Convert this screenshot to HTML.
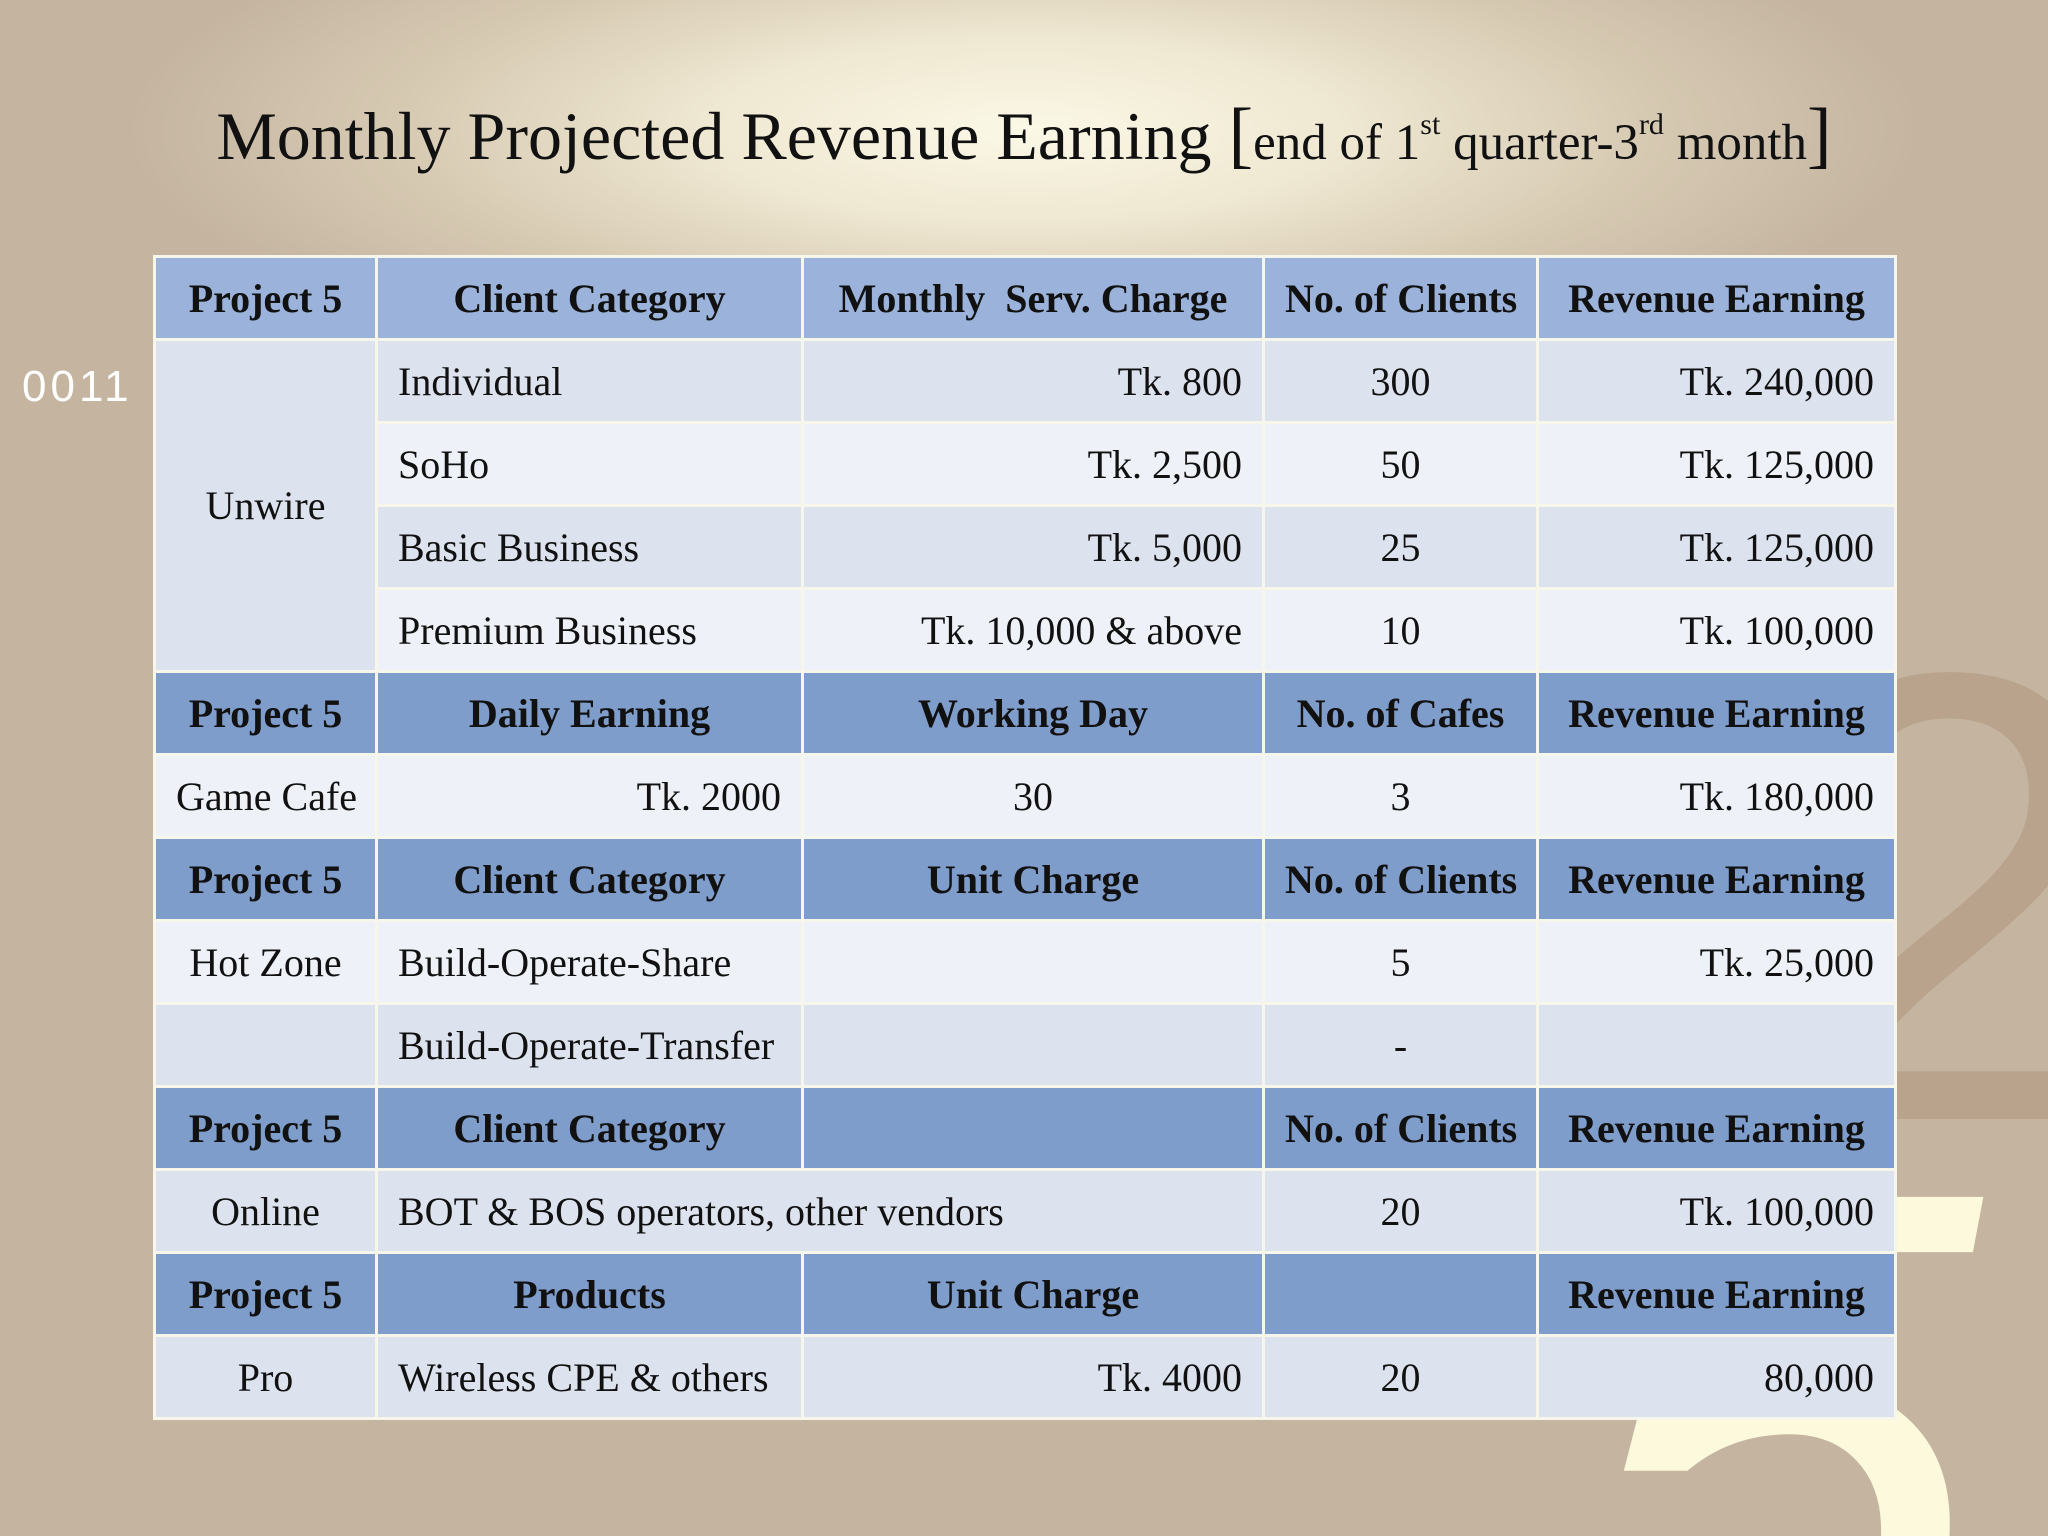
<!DOCTYPE html>
<html><head><meta charset="utf-8">
<style>
html,body{margin:0;padding:0;width:2048px;height:1536px;overflow:hidden}
#slide{width:2048px;height:1536px;position:relative;overflow:hidden;
background:radial-gradient(ellipse 900px 260px at 1024px 130px,#fbf8e6 0%,#efe8d2 35%,#d6c9b2 70%,rgba(197,181,160,0) 100%),#c4b4a0;
font-family:"Liberation Serif",serif;}
#decor{position:absolute;left:0;top:0;width:2048px;height:1536px;overflow:hidden}
.deco{position:absolute;font-family:"Liberation Sans",sans-serif;line-height:1}
#title{position:absolute;left:0;width:2048px;top:93px;text-align:center;font-size:68px;color:#111;white-space:nowrap}
#title .sm{font-size:51px}
#title sup{font-size:30px;vertical-align:25px}
#title .br{font-size:74px}
#code{position:absolute;left:22px;top:362px;font-family:"Liberation Sans",sans-serif;font-size:44px;color:#fff;letter-spacing:4px}
table{position:absolute;left:153px;top:255px;width:1741px;border-collapse:collapse;table-layout:fixed}
td{height:80px;border:3px solid #f7f6ea;font-size:40px;color:#111;padding:0 20px;white-space:nowrap}
tr.h td{background:#7f9dcb;font-weight:bold;text-align:center}
tr.h1 td{background:#9bb3da}
.d{background:#dde3ee}.l{background:#eef2f8}
.c{text-align:center}.r{text-align:right}
</style></head><body>
<div id="slide">
<div id="decor">
<div class="deco" style="left:1770px;top:578px;font-size:640px;color:#b9a38c">2</div>
<div class="deco" style="left:1570px;top:1080px;font-size:740px;color:#fdf9dc;font-style:italic">5</div>
</div>
<div id="title">Monthly Projected Revenue Earning <span class="br">[</span><span class="sm">end of 1<sup>st</sup> quarter-3<sup>rd</sup> month</span><span class="br">]</span></div>
<div id="code">0011</div>
<table>
<colgroup><col style="width:222px"><col style="width:426px"><col style="width:461px"><col style="width:274px"><col style="width:358px"></colgroup>
<tr class="h h1"><td>Project 5</td><td>Client Category</td><td>Monthly&nbsp; Serv. Charge</td><td>No. of Clients</td><td>Revenue Earning</td></tr>
<tr><td rowspan="4" class="d c">Unwire</td><td class="d">Individual</td><td class="d r">Tk. 800</td><td class="d c">300</td><td class="d r">Tk. 240,000</td></tr>
<tr><td class="l">SoHo</td><td class="l r">Tk. 2,500</td><td class="l c">50</td><td class="l r">Tk. 125,000</td></tr>
<tr><td class="d">Basic Business</td><td class="d r">Tk. 5,000</td><td class="d c">25</td><td class="d r">Tk. 125,000</td></tr>
<tr><td class="l">Premium Business</td><td class="l r">Tk. 10,000 &amp; above</td><td class="l c">10</td><td class="l r">Tk. 100,000</td></tr>
<tr class="h"><td>Project 5</td><td>Daily Earning</td><td>Working Day</td><td>No. of Cafes</td><td>Revenue Earning</td></tr>
<tr><td class="l c">Game Cafe</td><td class="l r">Tk. 2000</td><td class="l c">30</td><td class="l c">3</td><td class="l r">Tk. 180,000</td></tr>
<tr class="h"><td>Project 5</td><td>Client Category</td><td>Unit Charge</td><td>No. of Clients</td><td>Revenue Earning</td></tr>
<tr><td class="l c">Hot Zone</td><td class="l">Build-Operate-Share</td><td class="l"></td><td class="l c">5</td><td class="l r">Tk. 25,000</td></tr>
<tr><td class="d"></td><td class="d">Build-Operate-Transfer</td><td class="d"></td><td class="d c">-</td><td class="d"></td></tr>
<tr class="h"><td>Project 5</td><td>Client Category</td><td></td><td>No. of Clients</td><td>Revenue Earning</td></tr>
<tr><td class="d c">Online</td><td class="d" colspan="2">BOT &amp; BOS operators, other vendors</td><td class="d c">20</td><td class="d r">Tk. 100,000</td></tr>
<tr class="h"><td>Project 5</td><td>Products</td><td>Unit Charge</td><td></td><td>Revenue Earning</td></tr>
<tr><td class="d c">Pro</td><td class="d">Wireless CPE &amp; others</td><td class="d r">Tk. 4000</td><td class="d c">20</td><td class="d r">80,000</td></tr>
</table>
</div>
</body></html>
